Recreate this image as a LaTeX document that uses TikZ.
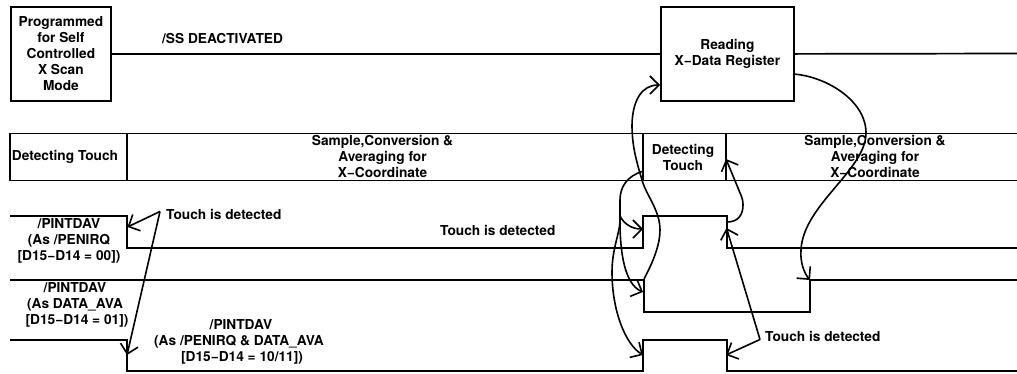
\documentclass[tikz,border=0pt]{standalone}
\usepackage{fontspec}
\setmainfont{TeX Gyre Heros}
\usetikzlibrary{arrows.meta}
\tikzset{
  x=1pt,y=-1pt,
  wave/.style={draw=black,line width=1.7pt,line join=miter},
  thinbox/.style={draw=black,line width=1.5pt},
  boxn/.style={draw=black,line width=1.8pt,minimum width=#1,minimum height=94pt,inner sep=0pt,align=center,font=\fontsize{13.7}{16}\bfseries\selectfont,anchor=north west},
  lab/.style={inner sep=0pt,align=center,font=\fontsize{13.7}{16}\bfseries\selectfont},
  curve/.style={draw=black,line width=1.6pt,-{Straight Barb[length=9pt,width=18pt,line width=1.6pt]}},
  plainc/.style={draw=black,line width=1.6pt}
}
\begin{document}
\begin{tikzpicture}
\useasboundingbox (0,0) rectangle (1017,373);
% reference points
\coordinate (L1a) at (10,216); \coordinate (L1b) at (127,216); \coordinate (L1c) at (127,248);
\coordinate (L1d) at (643,248); \coordinate (L1e) at (643,216); \coordinate (L1f) at (727,216);
\coordinate (L1g) at (727,248); \coordinate (L1h) at (1017,248);
\coordinate (L2a) at (10,280); \coordinate (L2b) at (644,280); \coordinate (L2c) at (644,312);
\coordinate (L2d) at (810,312); \coordinate (L2e) at (810,280); \coordinate (L2f) at (1017,280);
\coordinate (L3a) at (10,340); \coordinate (L3b) at (127,340); \coordinate (L3c) at (127,371);
\coordinate (L3d) at (643,371); \coordinate (L3e) at (643,340); \coordinate (L3f) at (727,340);
\coordinate (L3g) at (727,371); \coordinate (L3h) at (1017,371);
\coordinate (J1) at (160,211.5); \coordinate (J2) at (760,339.5);
\coordinate (T1) at (127.5,227); \coordinate (T2) at (127,355);
\coordinate (T3) at (726.5,228); \coordinate (T4) at (726,355);
% boxes
\node[boxn=100pt] (prog) at (10,6) {Programmed\\for Self\\Controlled\\X Scan\\Mode};
\node[boxn=133pt] (read) at (660,6) {Reading\\X−Data Register};
\coordinate (endR) at (1017,53.5);
\draw[wave] (prog.east) -- (read.west);
\draw[wave] (read.east) -- (endR);
% phase row
\coordinate (rowTL) at (10,133.5); \coordinate (rowBR) at (1017,180.5);
\coordinate (rowTR) at (1017,133.5); \coordinate (rowBL) at (10,180.5);
\draw[thinbox] (rowTR) -- (rowTL) -- (rowBL) -- (rowBR);
\foreach \xx in {127,643,726}{\draw[thinbox] (\xx,133.5) -- (\xx,180.5);}
% waves
\draw[wave] (L1a) -- (L1b) -- (L1c) -- (L1d) -- (L1e) -- (L1f) -- (L1g) -- (L1h);
\draw[wave] (L2a) -- (L2b) -- (L2c) -- (L2d) -- (L2e) -- (L2f);
\draw[wave] (L3a) -- (L3b) -- (L3c) -- (L3d) -- (L3e) -- (L3f) -- (L3g) -- (L3h);
% labels
\node[lab] (t1) at (222.5,39) {/SS DEACTIVATED};
\node[lab] (t2) at (65,156.5) {Detecting Touch};
\node[lab] (t3) at (382.5,156) {Sample,Conversion \&\\Averaging for\\X−Coordinate};
\node[lab] (t4) at (683,157) {Detecting\\Touch};
\node[lab] (t5) at (875,156) {Sample,Conversion \&\\Averaging for\\X−Coordinate};
\node[lab,anchor=west] (d1) at (166,214) {Touch is detected};
\node[lab,anchor=west] (d2) at (440,230) {Touch is detected};
\node[lab,anchor=west] (d3) at (765,336) {Touch is detected};
\node[lab] (p1) at (69,240.5) {/PINTDAV\\(As /PENIRQ\\{}[D15−D14 = 00])};
\node[lab] (p2) at (75,305) {/PINTDAV\\(As DATA\_AVA\\\hspace*{4pt}[D15−D14 = 01])};
\node[lab] (p3) at (239,341.5) {\hspace*{4pt}/PINTDAV\\(As /PENIRQ \& DATA\_AVA\\\hspace*{6pt}[D15−D14 = 10/11])};
% straight arrows
\draw[curve] (J1) -- (T1);
\draw[curve] (J1) -- (T2);
\draw[curve] (J2) -- (T3);
\draw[curve] (J2) -- (T4);
% curves
\coordinate (a0) at (644,279);
\coordinate (a1) at (660,85);
\draw[curve] (a0) .. controls (653,262) and (660,245) .. (660,230)
  .. controls (660,210) and (646,195) .. (642,180)
  .. controls (636,160) and (632,145) .. (632,125)
  .. controls (632.5,100) and (642,85) .. (a1);
\coordinate (b0) at (642,171.5);
\coordinate (b1) at (620,222);
\draw[plainc] (b0) .. controls (628,176) and (620,186) .. (620,200) -- (b1);
\draw[curve] (620,216) .. controls (624,224) and (632,229) .. (643,229);
\draw[curve] (b1) .. controls (620,250) and (624,284) .. (643,292);
\draw[curve] (b1) .. controls (619,235) and (612,250) .. (612,272)
  .. controls (612,310) and (625,344) .. (643,355);
\coordinate (c0) at (727,222);
\draw[curve] (c0) .. controls (738,222) and (743,215) .. (743,205)
  .. controls (743,197) and (740,194) .. (738,188) -- (726,159);
\coordinate (d0) at (793,74);
\coordinate (d1e) at (810,280);
\draw[curve] (d0) .. controls (825,76) and (866,100) .. (866,133)
  .. controls (866,170) and (803,205) .. (801,250)
  .. controls (800,262) and (804,273) .. (d1e);
\end{tikzpicture}
\end{document}
